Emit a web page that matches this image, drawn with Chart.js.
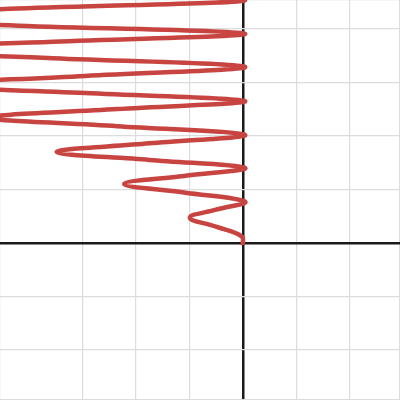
<!DOCTYPE html>
<html><head><style>html,body{margin:0;padding:0;background:#fff}#w{width:400px;height:400px}</style>
<script src="https://cdn.jsdelivr.net/npm/chart.js@4"></script></head>
<body><div id="w"><canvas id="c"></canvas></div>
<script>
const curveX=[0,-0.02,-0.5,-0.99,-0.5,0.04,-1.1,-2.22,-1.1,0.04,-1.75,-3.48,-1.75,0.04,-2.35,-4.73,-2.35,0.04,-2.95,-5.94,-2.95,0.04,-3.55,-7.16,-3.55,0.04,-4.2,-8.37,-4.2,0.04,-4.8,-9.6];
const curveY=[-0.04,0.12,0.30,0.47,0.62,0.77,0.94,1.10,1.25,1.40,1.55,1.70,1.86,2.02,2.18,2.34,2.50,2.65,2.80,2.95,3.12,3.29,3.45,3.61,3.76,3.91,4.06,4.22,4.38,4.54,4.70,4.86];
const pts=curveX.map((x,i)=>({x,y:curveY[i]}));
const grid={color:c=>c.tick.value===0?'#1a1a1a':'#dcdcdc',lineWidth:c=>c.tick.value===0?2.5:1.2,drawTicks:false};
new Chart(document.getElementById('c'),{type:'scatter',
data:{datasets:[{data:pts,showLine:true,borderColor:'#c74440',borderWidth:4.5,pointRadius:0,tension:0.4,fill:false}]},
options:{responsive:true,maintainAspectRatio:false,animation:false,layout:{padding:0},
plugins:{legend:{display:false},tooltip:{enabled:false}},
scales:{x:{type:'linear',min:-4.54,max:2.94,ticks:{display:false,stepSize:1},border:{display:false},grid},
y:{type:'linear',min:-2.94,max:4.54,ticks:{display:false,stepSize:1},border:{display:false},grid}}}});
</script></body></html>
